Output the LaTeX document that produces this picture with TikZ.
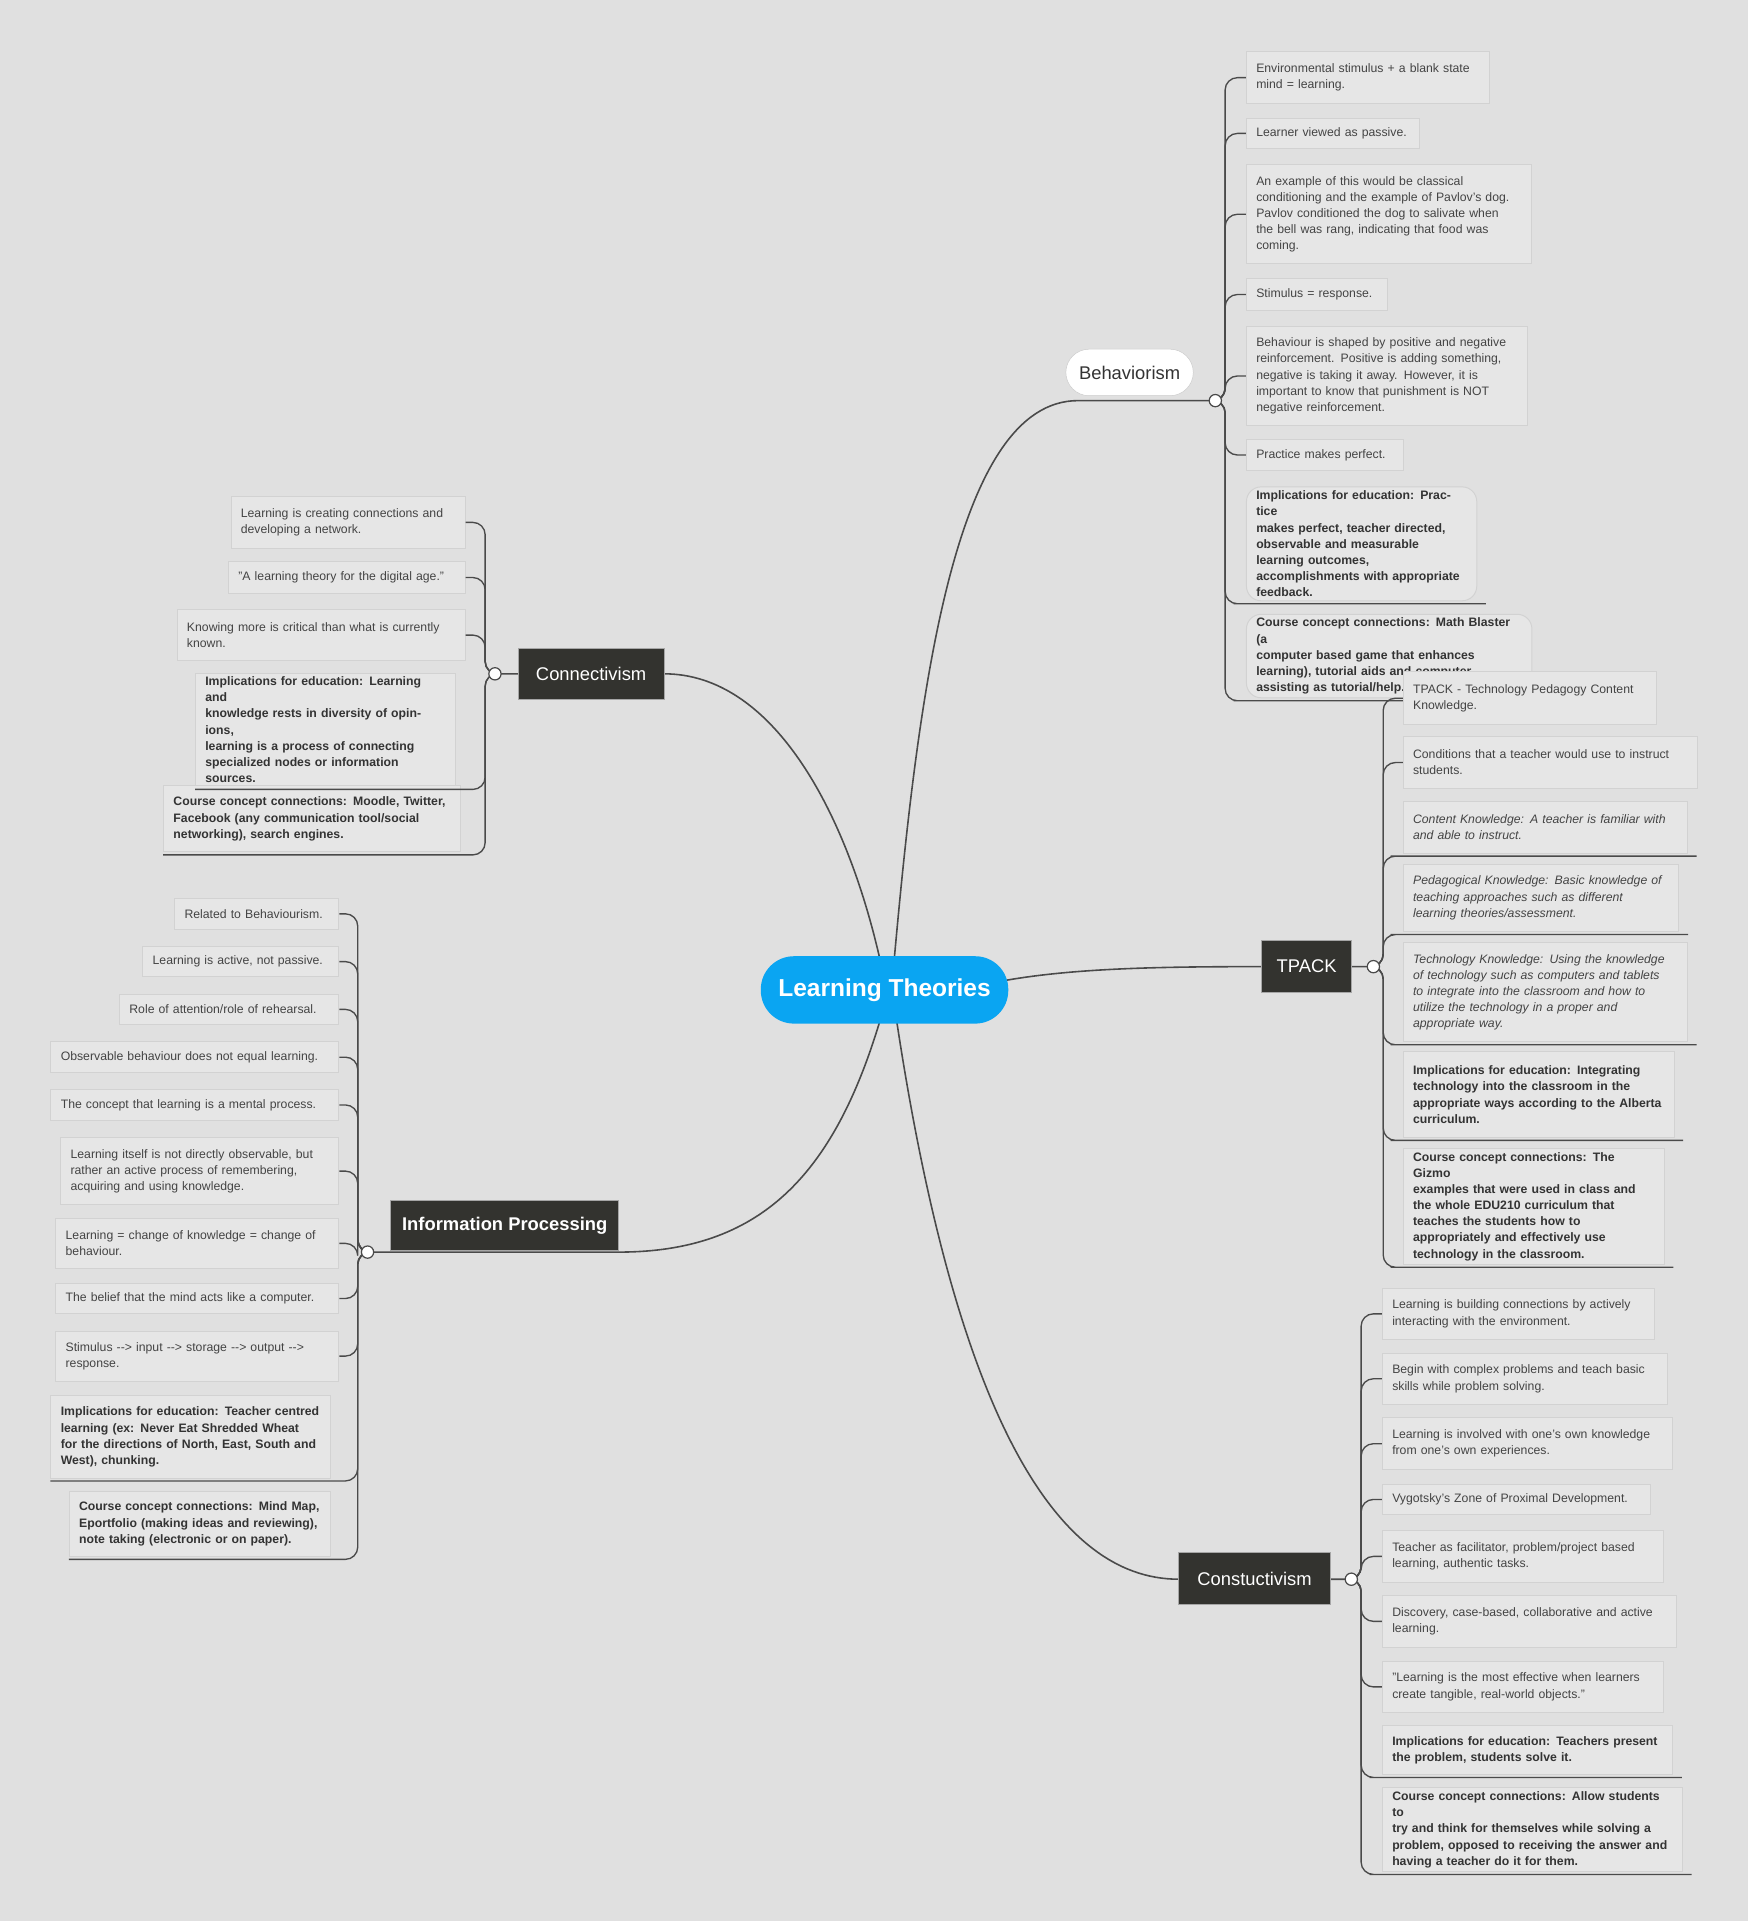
\documentclass[tikz,border=0pt]{standalone}
\usepackage{fontspec}
\setmainfont{Liberation Sans}
\usetikzlibrary{calc}
\definecolor{bg}{HTML}{E0E0E0}
\definecolor{leaffill}{HTML}{E6E6E6}
\definecolor{leafline}{HTML}{D2D2D2}
\definecolor{txt}{HTML}{444444}
\definecolor{conncol}{HTML}{4A4A4A}
\definecolor{darkbox}{HTML}{33332F}
\definecolor{titleblue}{HTML}{0AA5F2}
\tikzset{
  leafbox/.style={fill=leaffill,draw=leafline,line width=0.8pt,align=left,inner xsep=8pt,inner ysep=3pt,
    text=txt,font=\fontsize{10}{13.2}\selectfont},
  boldleaf/.style={font=\fontsize{10}{13.2}\selectfont\bfseries,text=black!80},
  itleaf/.style={font=\fontsize{10}{13.2}\selectfont\itshape},
  conn/.style={draw=conncol,line width=1.1pt,rounded corners=10pt},
  mainconn/.style={draw=conncol,line width=1.3pt},
  hubc/.style={circle,draw=conncol,fill=white,line width=1pt,inner sep=0pt,minimum size=10pt},
  topic/.style={fill=darkbox,draw=gray!70,line width=0.8pt,text=white,font=\fontsize{15}{18}\selectfont,inner sep=0pt},
}
\newcommand\leafnode[7]{\node[leafbox,#1,anchor=#3,text width=#5pt,minimum height=#6pt] (#2) at #4 {#7};}
\newcommand\rconn[2]{\draw[conn] (#1) -- ++(8,0) |- (#2.west);}
\newcommand\rconnb[2]{\draw[conn] (#1) -- ++(8,0) |- ($(#2.south west)+(0,2)$) -- ($(#2.south east)+(7,2)$);}
\newcommand\lconn[2]{\draw[conn] (#1) -- ++(-8,0) |- (#2.east);}
\newcommand\lconnb[2]{\draw[conn] (#1) -- ++(-8,0) |- ($(#2.south east)+(0,2)$) -- ($(#2.south west)+(0,2)$);}
\begin{document}
\begin{tikzpicture}[x=1pt,y=-1pt]
\useasboundingbox (0,0) rectangle (1427,1568);
\fill[bg] (0,0) rectangle (1427,1568);

% hubs coordinates
\coordinate (hB) at (992,327);
\coordinate (hT) at (1121,789);
\coordinate (hC) at (1103,1289);
\coordinate (hN) at (404,550);
\coordinate (hI) at (300,1022);

% main connectors
\coordinate (cB) at (730,782);
\coordinate (cN) at (718,782);
\coordinate (cI) at (718,834);
\coordinate (cC) at (732,834);
\coordinate (cT) at (822,800);
\draw[mainconn] (cB) .. controls (750,560) and (780,327) .. (880,327) -- (hB);
\draw[mainconn] (cN) .. controls (690,660) and (630,550) .. (542,550) -- (hN);
\draw[mainconn] (cI) .. controls (680,960) and (620,1022) .. (505,1022) -- (hI);
\draw[mainconn] (cC) .. controls (780,1150) and (860,1289) .. (962,1289) -- (hC);
\draw[mainconn] (cT) .. controls (880,790) and (950,789) .. (1030,789) -- (hT);

% central
\node[fill=titleblue,rounded corners=27pt,minimum width=202pt,minimum height=55pt,text=white,
  font=\fontsize{20}{24}\selectfont\bfseries] (center) at (722,808) {Learning Theories};

% topics
\node[fill=white,draw=gray!40,rounded corners=19pt,minimum width=104pt,minimum height=38pt,
  font=\fontsize{15}{18}\selectfont,text=black!80] (beh) at (922,304) {Behaviorism};
\node[topic,minimum width=73pt,minimum height=42pt] (tpack) at (1066.5,789) {TPACK};
\node[topic,minimum width=124pt,minimum height=43pt] (cons) at (1024,1288.5) {Constuctivism};
\node[topic,minimum width=119pt,minimum height=42pt] (conn) at (482.5,550) {Connectivism};
\node[topic,minimum width=186pt,minimum height=41pt,font=\fontsize{15}{18}\selectfont\bfseries] (info) at (412,1000.5) {Information Processing};

% Behaviorism leaves
\leafnode{}{b1}{north west}{(1017,42)}{182}{42}{Environmental stimulus + a blank state\\mind = learning.}
\leafnode{}{b2}{north west}{(1017,96)}{125}{25}{Learner viewed as passive.}
\leafnode{}{b3}{north west}{(1017,134)}{217}{81}{An example of this would be classical\\conditioning and the example of Pavlov's dog.\\Pavlov conditioned the dog to salivate when\\the bell was rang, indicating that food was\\coming.}
\leafnode{}{b4}{north west}{(1017,227)}{99}{26}{Stimulus = response.}
\leafnode{}{b5}{north west}{(1017,266)}{213}{81}{Behaviour is shaped by positive and negative\\reinforcement. Positive is adding something,\\negative is taking it away. However, it is\\important to know that punishment is NOT\\negative reinforcement.}
\leafnode{}{b6}{north west}{(1017,358)}{112}{26}{Practice makes perfect.}
\leafnode{boldleaf,rounded corners=12pt}{b7}{north west}{(1017,397)}{172}{93}{Implications for education: Practice\\makes perfect, teacher directed,\\observable and measurable\\learning outcomes,\\accomplishments with appropriate\\feedback.}
\leafnode{boldleaf,rounded corners=12pt}{b8}{north west}{(1017,501)}{217}{67}{Course concept connections: Math Blaster (a\\computer based game that enhances\\learning), tutorial aids and computer\\assisting as tutorial/help.}
\foreach \n in {b1,b2,b3,b4,b5,b6} {\rconn{hB}{\n}}
\rconnb{hB}{b7}\rconnb{hB}{b8}

% TPACK leaves
\leafnode{}{t1}{north west}{(1145,548)}{191}{43}{TPACK - Technology Pedagogy Content\\Knowledge.}
\leafnode{}{t2}{north west}{(1145,601)}{224}{42}{Conditions that a teacher would use to instruct\\students.}
\leafnode{itleaf}{t3}{north west}{(1145,654)}{216}{42}{Content Knowledge: A teacher is familiar with\\and able to instruct.}
\leafnode{itleaf}{t4}{north west}{(1145,705)}{209}{55}{Pedagogical Knowledge: Basic knowledge of\\teaching approaches such as different\\learning theories/assessment.}
\leafnode{itleaf}{t5}{north west}{(1145,769)}{216}{81}{Technology Knowledge: Using the knowledge\\of technology such as computers and tablets\\to integrate into the classroom and how to\\utilize the technology in a proper and\\appropriate way.}
\leafnode{boldleaf}{t6}{north west}{(1145,858)}{205}{70}{Implications for education: Integrating\\technology into the classroom in the\\appropriate ways according to the Alberta\\curriculum.}
\leafnode{boldleaf}{t7}{north west}{(1145,937)}{197}{93}{Course concept connections: The Gizmo\\examples that were used in class and\\the whole EDU210 curriculum that\\teaches the students how to\\appropriately and effectively use\\technology in the classroom.}
\rconn{hT}{t1}\rconn{hT}{t2}
\foreach \n in {t3,t4,t5,t6,t7} {\rconnb{hT}{\n}}

% Constructivism leaves
\leafnode{}{k1}{north west}{(1128,1051)}{206}{42}{Learning is building connections by actively\\interacting with the environment.}
\leafnode{}{k2}{north west}{(1128,1104)}{217}{42}{Begin with complex problems and teach basic\\skills while problem solving.}
\leafnode{}{k3}{north west}{(1128,1157)}{221}{42}{Learning is involved with one's own knowledge\\from one's own experiences.}
\leafnode{}{k4}{north west}{(1128,1211)}{203}{25}{Vygotsky's Zone of Proximal Development.}
\leafnode{}{k5}{north west}{(1128,1249)}{213}{42}{Teacher as facilitator, problem/project based\\learning, authentic tasks.}
\leafnode{}{k6}{north west}{(1128,1302)}{224}{42}{Discovery, case-based, collaborative and active\\learning.}
\leafnode{}{k7}{north west}{(1128,1356)}{213}{41}{"Learning is the most effective when learners\\create tangible, real-world objects."}
\leafnode{boldleaf}{k8}{north west}{(1128,1408)}{221}{40}{Implications for education: Teachers present\\the problem, students solve it.}
\leafnode{boldleaf}{k9}{north west}{(1128,1459)}{229}{67}{Course concept connections: Allow students to\\try and think for themselves while solving a\\problem, opposed to receiving the answer and\\having a teacher do it for them.}
\foreach \n in {k1,k2,k3,k4,k5,k6,k7} {\rconn{hC}{\n}}
\rconnb{hC}{k8}\rconnb{hC}{k9}

% Connectivism leaves
\leafnode{}{n1}{north east}{(380,405)}{175}{42}{Learning is creating connections and\\developing a network.}
\leafnode{}{n2}{north east}{(380,458)}{177}{26}{"A learning theory for the digital age."}
\leafnode{}{n3}{north east}{(380,497)}{219}{42}{Knowing more is critical than what is currently\\known.}
\leafnode{boldleaf}{n4}{north east}{(372,549)}{196}{81}{Implications for education: Learning and\\knowledge rests in diversity of opinions,\\learning is a process of connecting\\specialized nodes or information\\sources.}
\leafnode{boldleaf}{n5}{north east}{(376,641)}{226}{54}{Course concept connections: Moodle, Twitter,\\Facebook (any communication tool/social\\networking), search engines.}
\lconn{hN}{n1}\lconn{hN}{n2}\lconn{hN}{n3}
\lconnb{hN}{n4}\lconnb{hN}{n5}

% Information processing leaves
\leafnode{}{i1}{north east}{(277,733)}{118}{25}{Related to Behaviourism.}
\leafnode{}{i2}{north east}{(277,772)}{144}{25}{Learning is active, not passive.}
\leafnode{}{i3}{north east}{(277,811)}{163}{25}{Role of attention/role of rehearsal.}
\leafnode{}{i4}{north east}{(277,850)}{219}{25}{Observable behaviour does not equal learning.}
\leafnode{}{i5}{north east}{(277,889)}{219}{25}{The concept that learning is a mental process.}
\leafnode{}{i6}{north east}{(277,928)}{211}{55}{Learning itself is not directly observable, but\\rather an active process of remembering,\\acquiring and using knowledge.}
\leafnode{}{i7}{north east}{(277,994)}{215}{41}{Learning = change of knowledge = change of\\behaviour.}
\leafnode{}{i8}{north east}{(277,1047)}{215}{25}{The belief that the mind acts like a computer.}
\leafnode{}{i9}{north east}{(277,1086)}{215}{41}{Stimulus -{}-> input -{}-> storage -{}-> output -{}->\\response.}
\leafnode{boldleaf}{i10}{north east}{(270,1139)}{212}{67}{Implications for education: Teacher centred\\learning (ex: Never Eat Shredded Wheat\\for the directions of North, East, South and\\West), chunking.}
\leafnode{boldleaf}{i11}{north east}{(270,1217)}{197}{53}{Course concept connections: Mind Map,\\Eportfolio (making ideas and reviewing),\\note taking (electronic or on paper).}
\foreach \n in {i1,i2,i3,i4,i5,i6,i7,i8,i9} {\lconn{hI}{\n}}
\lconnb{hI}{i10}\lconnb{hI}{i11}

% hub circles
\foreach \h in {hB,hT,hC,hN,hI} {\node[hubc] at (\h) {};}
\end{tikzpicture}
\end{document}
